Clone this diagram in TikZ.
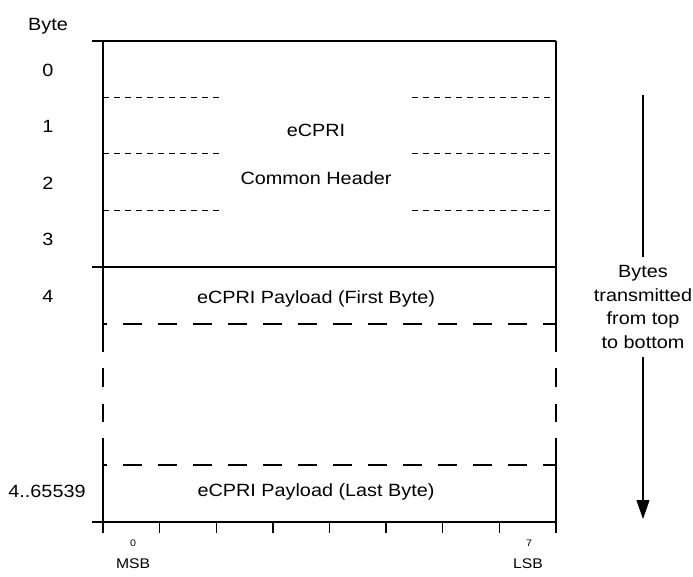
\documentclass[tikz,border=0pt]{standalone}
\usepackage{fontspec}
\setmainfont[FakeStretch=1.12]{Liberation Sans}
\usetikzlibrary{arrows.meta,positioning}

\begin{document}
\begin{tikzpicture}[x=1pt, y=-1pt]
	\tikzstyle{field} = [
		inner sep=0pt, anchor=base, align=center,
		font={\fontsize{17.7}{23.7}\selectfont}];
	\tikzstyle{bytenum} = [field];
	\tikzstyle{bitnum} = [
		inner sep=0pt, anchor=base,
		font={\fontsize{9.5}{11}\selectfont}];
	\tikzstyle{bitname} = [
		inner sep=0pt, anchor=base,
		font={\fontsize{14}{16}\selectfont}];

	\tikzstyle{frame} = [line width=1.3pt];
	\tikzstyle{sep} = [line width=0.9pt, dash pattern=on 6pt off 5pt];
	\tikzstyle{gap} = [
		line width=1.1pt, dash pattern=on 19pt off 16pt, dash phase=15pt];
	\tikzstyle{flow} = [line width=1.1pt];
	\tikzstyle{order} = [
		flow, -{Triangle[length=19pt, width=13pt]}];

	\useasboundingbox (0,0) rectangle (693,576);

	% frame of the message
	\draw[frame] (92,41) -- (556,41);
	\draw[frame] (92,267) -- (556,267);
	\draw[frame] (92,522) -- (556,522);
	\foreach \x in {103,556} {
		\draw[frame] (\x,41) -- (\x,352);
		\draw[frame] (\x,368) -- (\x,387);
		\draw[frame] (\x,404) -- (\x,422);
		\draw[frame] (\x,438) -- (\x,533);
	}
	\foreach \i in {1,...,7}
		\draw[frame] (103+\i*56.625,522) -- ++(0,11);

	% byte borders
	\foreach \y in {97,153,210} {
		\draw[sep] (103,\y) -- (223,\y);
		\draw[sep] (412,\y) -- (556,\y);
	}
	\foreach \y in {324,465}
		\draw[gap] (103,\y) -- (556,\y);

	% fields
	\node[field] (hdr) at (316,136.7) {eCPRI};
	\node[field] (hdrname) at (316,184.3) {Common Header};
	\node[field] (first) at (316,303.3) {eCPRI Payload (First Byte)};
	\node[field] (last) at (316,496) {eCPRI Payload (Last Byte)};

	% byte numbers
	\node[bytenum] (byte) at (48,30) {Byte};
	\foreach \i in {0,...,4}
		\node[bytenum] (b\i) at (48,76+\i*56.5) {\i};
	\node[bytenum] (bend) at (47,497) {4..65539};

	% bit numbers
	\node[bitnum] (bit0) at (133,546.7) {0};
	\node[bitnum] (bit7) at (529,546.7) {7};
	\node[bitname] (msb) at (133,568.3) {MSB};
	\node[bitname] (lsb) at (528,568.3) {LSB};

	% order of transmission
	\coordinate (dtop) at (643,95);
	\coordinate (dtip) at (643,519);
	\node[field, anchor=center, inner ysep=8pt] (dir) at (643,307)
		{Bytes\\transmitted\\from top\\to bottom};
	\draw[flow] (dtop) -- (dir);
	\draw[order] (dir) -- (dtip);
\end{tikzpicture}
\end{document}
